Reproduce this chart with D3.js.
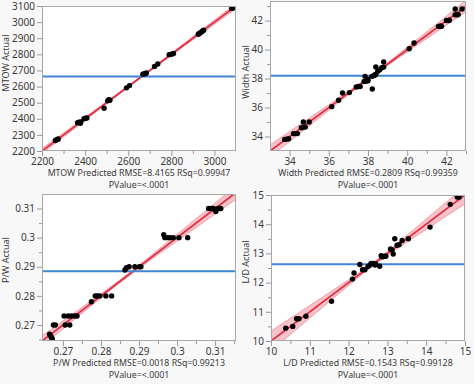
<!DOCTYPE html>
<html>
<head>
<meta charset="utf-8">
<script src="https://cdn.jsdelivr.net/npm/d3@7/dist/d3.min.js"></script>
<style>
  body { margin: 0; background: #f8f8f8; }
  text { font-family: "Noto Sans", sans-serif; fill: #3a3a3a; }
  .tick line { stroke: #9a9a9a; }
  .tick text { font-size: 10px; fill: #3a3a3a; }
</style>
</head>
<body>
<div id="chart"></div>
<script>
// MTOW
var mtowPred   = [2262, 2268, 2272, 2275, 2365, 2372, 2380, 2378, 2395, 2402, 2408, 2488, 2505, 2510, 2515,
                  2592, 2606, 2668, 2675, 2680, 2684, 2722, 2737, 2790, 2798, 2805, 2810,
                  2925, 2930, 2935, 2940, 2945, 2950, 3080, 3085, 3090];
var mtowActual = [2265, 2270, 2272, 2275, 2375, 2378, 2380, 2372, 2400, 2404, 2405, 2465, 2512, 2518, 2515,
                  2592, 2606, 2676, 2680, 2680, 2684, 2725, 2740, 2798, 2800, 2803, 2805,
                  2925, 2930, 2935, 2938, 2945, 2950, 3085, 3087, 3090];
var mtowTicks = [2200, 2400, 2600, 2800, 3000];
var mtowYTicks = [2200, 2300, 2400, 2500, 2600, 2700, 2800, 2900, 3000, 3100];
var mtowMean = 2662;

// Width
var widthPred   = [33.75, 33.85, 33.95, 34.2, 34.3, 34.4, 34.7, 34.6, 34.7, 34.8, 35.0, 36.15, 36.5, 36.7, 37.05,
                   37.4, 37.5, 37.6, 37.8, 37.9, 38.0, 37.85, 38.0, 38.2, 38.3, 38.35, 38.4, 38.22, 38.4,
                   38.5, 38.6, 38.7, 38.8, 38.8, 40.1, 40.35, 41.6, 41.7, 41.75, 42.0, 42.1, 42.15,
                   42.45, 42.55, 42.6, 42.45, 42.8];
var widthActual = [33.8, 33.82, 33.85, 34.2, 34.2, 34.2, 35.0, 34.6, 34.65, 34.65, 35.0, 36.06, 36.5, 37.0, 37.03,
                   37.42, 37.45, 37.45, 37.8, 37.82, 37.85, 38.15, 37.93, 38.15, 38.2, 38.25, 38.3, 37.28, 38.8,
                   38.5, 38.6, 38.75, 38.8, 39.15, 40.06, 40.45, 41.6, 41.62, 41.6, 42.0, 42.0, 42.02,
                   42.4, 42.4, 42.42, 42.8, 42.8];
var widthTicks = [34, 36, 38, 40, 42];
var widthMean = 38.19;

// P/W
var pwPred   = [0.2665, 0.2668, 0.267, 0.2672, 0.2675, 0.268, 0.2703, 0.2706, 0.2718, 0.2714, 0.2722, 0.273, 0.2737,
                0.2775, 0.2785, 0.279, 0.2797, 0.2813, 0.2828, 0.2863, 0.2867, 0.2874, 0.2889, 0.2901, 0.2905,
                0.2965, 0.2968, 0.2975, 0.2982, 0.299, 0.3005, 0.3028,
                0.3083, 0.309, 0.3095, 0.31, 0.3102, 0.3108, 0.3115];
var pwActual = [0.2668, 0.2662, 0.2656, 0.2652, 0.27, 0.27, 0.2731, 0.27, 0.27, 0.2731, 0.2731, 0.2731, 0.2731,
                0.278, 0.28, 0.28, 0.28, 0.28, 0.28, 0.2889, 0.2897, 0.29, 0.29, 0.29, 0.29,
                0.301, 0.3, 0.3, 0.3, 0.3, 0.3, 0.3,
                0.31, 0.31, 0.31, 0.3098, 0.309, 0.31, 0.31];
var pwTicks = [0.27, 0.28, 0.29, 0.3, 0.31];
var pwMean = 0.2885;

// L/D
var ldPred   = [10.38, 10.56, 10.66, 10.72, 10.9, 11.56, 12.1, 12.14, 12.29, 12.36, 12.42, 12.5, 12.55, 12.58,
                12.64, 12.7, 12.68, 12.8, 12.84, 12.87, 12.92, 12.96, 13.08, 13.12, 13.15, 13.19, 13.25, 13.3,
                13.38, 13.54, 14.1, 14.62, 14.8, 14.85];
var ldActual = [10.44, 10.5, 10.76, 10.76, 10.85, 11.36, 12.12, 12.33, 12.62, 12.44, 12.44, 12.55, 12.6, 12.66,
                12.66, 12.64, 12.6, 12.56, 12.92, 12.88, 12.9, 12.9, 13.15, 13.12, 12.98, 13.5, 13.28, 13.3,
                13.44, 13.5, 13.9, 14.68, 14.93, 14.93];
var ldTicks = [10, 11, 12, 13, 14, 15];
var ldMean = 12.63;

var svg = d3.select("#chart").append("svg")
  .attr("width", 474)
  .attr("height", 384);

function drawPanel(p) {
  var g = svg.append("g");
  var x = d3.scaleLinear().domain(p.xDomain).range([p.left, p.right]);
  var y = d3.scaleLinear().domain(p.yDomain).range([p.bottom, p.top]);

  g.append("rect")
    .attr("x", p.left).attr("y", p.top)
    .attr("width", p.right - p.left).attr("height", p.bottom - p.top)
    .attr("fill", "#fff");

  var clipId = "clip" + p.id;
  g.append("clipPath").attr("id", clipId)
    .append("rect")
    .attr("x", p.left).attr("y", p.top)
    .attr("width", p.right - p.left).attr("height", p.bottom - p.top);

  var plot = g.append("g").attr("clip-path", "url(#" + clipId + ")");

  // confidence band round the fit line y = x
  var xbar = d3.mean(p.pred);
  var d0 = Math.max(Math.abs(p.xDomain[0] - xbar), Math.abs(p.xDomain[1] - xbar));
  var a = p.band[0];
  var b = Math.sqrt(p.band[1] * p.band[1] - a * a) / d0;
  var xs = d3.range(0, 61).map(i => p.xDomain[0] + (p.xDomain[1] - p.xDomain[0]) * i / 60);
  var half = v => Math.sqrt(a * a + b * b * (v - xbar) * (v - xbar));

  plot.append("path")
    .datum(xs)
    .attr("d", d3.area().x(d => x(d)).y0(d => y(d - half(d))).y1(d => y(d + half(d))))
    .attr("fill", "#f7c3c8");
  [-1, 1].forEach(function(s) {
    plot.append("path")
      .datum(xs)
      .attr("d", d3.line().x(d => x(d)).y(d => y(d + s * half(d))))
      .attr("fill", "none")
      .attr("stroke", "#ee8d97")
      .attr("stroke-width", 0.8);
  });

  plot.append("line")
    .attr("x1", x(p.xDomain[0])).attr("y1", y(p.xDomain[0]))
    .attr("x2", x(p.xDomain[1])).attr("y2", y(p.xDomain[1]))
    .attr("stroke", "#e0283f")
    .attr("stroke-width", 1.7);

  plot.append("line")
    .attr("x1", p.left).attr("x2", p.right)
    .attr("y1", y(p.mean)).attr("y2", y(p.mean))
    .attr("stroke", "#3f86d6")
    .attr("stroke-width", 2);

  plot.selectAll(".dot")
    .data(p.pred)
    .enter()
    .append("circle")
    .attr("cx", d => x(d))
    .attr("cy", (d, i) => y(p.actual[i]))
    .attr("r", 2.7)
    .attr("fill", "#000");

  // frame
  g.append("rect")
    .attr("x", p.left + 0.5).attr("y", p.top + 0.5)
    .attr("width", p.right - p.left - 1).attr("height", p.bottom - p.top - 1)
    .attr("fill", "none")
    .attr("stroke", "#a8a8a8");

  // axes
  var xMinor = g.append("g")
    .attr("transform", `translate(0, ${p.bottom})`)
    .call(d3.axisBottom(x).tickValues(p.xMinor).tickSize(3).tickFormat(""));
  var xMajor = g.append("g")
    .attr("transform", `translate(0, ${p.bottom})`)
    .call(d3.axisBottom(x).tickValues(p.xTicks).tickSize(5).tickPadding(2).tickFormat(p.fmt));
  var yMinor = g.append("g")
    .attr("transform", `translate(${p.left}, 0)`)
    .call(d3.axisLeft(y).tickValues(p.yMinor).tickSize(3).tickFormat(""));
  var yMajor = g.append("g")
    .attr("transform", `translate(${p.left}, 0)`)
    .call(d3.axisLeft(y).tickValues(p.yTicks).tickSize(5).tickPadding(2).tickFormat(p.fmt));
  [xMinor, xMajor, yMinor, yMajor].forEach(ax => ax.select(".domain").remove());

  var cx = (p.left + p.right) / 2;
  g.append("text")
    .attr("x", cx).attr("y", p.bottom + 25)
    .attr("text-anchor", "middle")
    .style("font-size", "8.8px")
    .text(p.caption);
  g.append("text")
    .attr("x", cx).attr("y", p.bottom + 37)
    .attr("text-anchor", "middle")
    .style("font-size", "8.8px")
    .text("PValue=<.0001");

  g.append("text")
    .attr("transform", `translate(${p.titleX}, ${p.titleY}) rotate(-90)`)
    .attr("text-anchor", "middle")
    .style("font-size", "9px")
    .text(p.yTitle);
}

var fmtPlain = d => String(d);

drawPanel({
  id: 1, left: 42, right: 236, top: 6, bottom: 151,
  xDomain: [2200, 3100], yDomain: [2200, 3100],
  pred: mtowPred, actual: mtowActual, mean: mtowMean,
  band: [5, 16],
  xTicks: mtowTicks, xMinor: [2300, 2500, 2700, 2900],
  yTicks: mtowYTicks, yMinor: [],
  fmt: fmtPlain,
  caption: "MTOW Predicted RMSE=8.4165 RSq=0.99947",
  yTitle: "MTOW Actual", titleX: 9, titleY: 63
});

drawPanel({
  id: 2, left: 270, right: 466, top: 1, bottom: 151,
  xDomain: [33, 43], yDomain: [33, 43.35],
  pred: widthPred, actual: widthActual, mean: widthMean,
  band: [0.07, 0.42],
  xTicks: widthTicks, xMinor: [35, 37, 39, 41, 43],
  yTicks: widthTicks, yMinor: [35, 37, 39, 41, 43],
  fmt: fmtPlain,
  caption: "Width Predicted RMSE=0.2809 RSq=0.99359",
  yTitle: "Width Actual", titleX: 249, titleY: 72
});

drawPanel({
  id: 3, left: 42, right: 236, top: 194, bottom: 341,
  xDomain: [0.2645, 0.3155], yDomain: [0.2645, 0.315],
  pred: pwPred, actual: pwActual, mean: pwMean,
  band: [0.0005, 0.0023],
  xTicks: pwTicks, xMinor: [0.275, 0.285, 0.295, 0.305, 0.315],
  yTicks: pwTicks, yMinor: [0.265, 0.275, 0.285, 0.295, 0.305],
  fmt: fmtPlain,
  caption: "P/W Predicted RMSE=0.0018 RSq=0.99213",
  yTitle: "P/W Actual", titleX: 9, titleY: 260
});

drawPanel({
  id: 4, left: 271, right: 465, top: 195, bottom: 341,
  xDomain: [10, 15], yDomain: [10, 15],
  pred: ldPred, actual: ldActual, mean: ldMean,
  band: [0.05, 0.34],
  xTicks: ldTicks, xMinor: [10.5, 11.5, 12.5, 13.5, 14.5],
  yTicks: ldTicks, yMinor: [10.5, 11.5, 12.5, 13.5, 14.5],
  fmt: fmtPlain,
  caption: "L/D Predicted RMSE=0.1543 RSq=0.99128",
  yTitle: "L/D Actual", titleX: 249, titleY: 262
});
</script>
</body>
</html>
